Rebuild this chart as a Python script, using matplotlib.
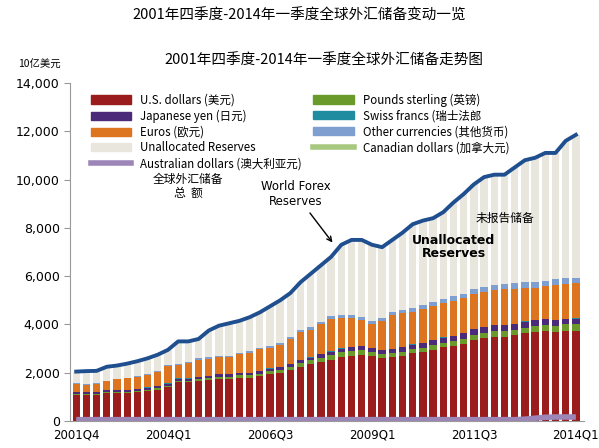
import matplotlib
matplotlib.use("Agg")
import matplotlib.pyplot as plt
import numpy as np

plt.rcParams['font.family'] = ['DejaVu Sans', 'Noto Sans CJK SC']
CJK = ['Noto Sans CJK SC', 'DejaVu Sans']

n = 50
tick_pos = [0, 9, 19, 29, 39, 49]
tick_labels = ['2001Q4', '2004Q1', '2006Q3', '2009Q1', '2011Q3', '2014Q1']

total = [2050,2070,2080,2250,2300,2380,2480,2600,2750,2950,3300,3300,3400,3750,3950,4050,4150,4300,4500,4750,
         5000,5300,5750,6100,6450,6800,7300,7500,7500,7300,7200,7500,7800,8150,8300,8400,8650,9050,9400,9800,
         10100,10200,10200,10500,10800,10900,11100,11100,11600,11850]
usd = [1100,1100,1100,1150,1150,1150,1200,1250,1300,1400,1600,1600,1650,1700,1750,1750,1800,1800,1850,1950,
       2000,2100,2250,2350,2450,2550,2650,2700,2750,2700,2600,2650,2700,2800,2850,2950,3050,3100,3200,3350,
       3450,3500,3500,3550,3650,3700,3750,3700,3750,3750]
jpy = [70,70,70,75,75,80,80,80,85,90,90,90,90,95,95,95,95,100,100,100,
       110,110,115,120,130,140,150,160,170,170,170,170,180,190,200,200,210,220,230,240,
       240,250,250,250,250,240,230,230,230,240]
gbp = [40,40,40,45,45,50,50,55,60,65,70,70,75,80,85,90,95,100,110,120,
       130,140,150,160,180,190,200,200,190,160,160,170,180,180,190,190,200,200,210,210,
       210,220,220,220,220,230,240,250,250,250]
chf = [10]*n
eur = [320,270,320,370,450,480,480,520,560,720,560,620,720,700,700,700,780,820,900,850,
       920,1050,1150,1150,1250,1350,1250,1200,1050,1000,1200,1400,1400,1350,1400,1400,1400,1450,1450,1450,
       1450,1450,1500,1450,1400,1350,1350,1450,1450,1450]
other = [30,30,30,30,30,30,30,40,40,40,40,40,50,50,50,50,50,60,60,60,
         70,70,80,90,100,110,120,120,120,110,110,120,130,140,150,160,170,180,180,190,
         200,200,210,220,230,230,230,230,240,240]
aud = [60]*44 + [80,120,160,170,170,170]

x = np.arange(n)
fig = plt.figure(figsize=(5.99, 4.48), dpi=100)
ax = fig.add_axes([0.117, 0.06, 0.858, 0.755])

w = 0.72
ax.bar(x, total, w, color='#e9e7dd', zorder=1)
bottom = np.zeros(n)
for vals, col in [(usd, '#9b1c1c'), (gbp, '#6a9a2a'), (jpy, '#4b2a7a'), (chf, '#1f8ca0'),
                  (eur, '#dd7420'), (other, '#7f9fd0')]:
    ax.bar(x, vals, w, bottom=bottom, color=col, zorder=2)
    bottom += np.array(vals)
ax.plot(x, aud, color='#9c86b8', lw=4, zorder=3, solid_capstyle='butt')
ax.plot(x, total, color='#1f4f8f', lw=2.8, zorder=4)

ax.set_ylim(0, 14000)
ax.set_xlim(-0.6, n - 0.2)
ax.set_yticks(range(0, 14001, 2000))
ax.set_yticklabels([f'{v:,}' for v in range(0, 14001, 2000)], fontsize=9)
ax.set_xticks(tick_pos)
ax.set_xticklabels(tick_labels, fontsize=8.5)
ax.tick_params(axis='x', length=0, pad=5)
ax.tick_params(axis='y', length=4, color='#999999')
for s in ['top', 'right']:
    ax.spines[s].set_visible(False)
ax.spines['left'].set_color('#999999')
ax.spines['bottom'].set_color('#999999')

from matplotlib.patches import Patch
from matplotlib.lines import Line2D
items = [
    (Patch(color='#9b1c1c'), 'U.S. dollars (美元)'),
    (Patch(color='#4b2a7a'), 'Japanese yen (日元)'),
    (Patch(color='#dd7420'), 'Euros (欧元)'),
    (Patch(color='#e9e7dd'), 'Unallocated Reserves'),
    (Line2D([], [], color='#9c86b8', lw=4), 'Australian dollars (澳大利亚元)'),
    (Patch(color='#6a9a2a'), 'Pounds sterling (英镑)'),
    (Patch(color='#1f8ca0'), 'Swiss francs (瑞士法郎'),
    (Patch(color='#7f9fd0'), 'Other currencies (其他货币)'),
    (Line2D([], [], color='#a8c880', lw=4), 'Canadian dollars (加拿大元)'),
]
ax.legend([h for h, _ in items], [l for _, l in items], ncol=2, loc='upper left',
          bbox_to_anchor=(0.02, 1.0), frameon=False, handlelength=3.5, handleheight=0.7,
          labelspacing=0.25, columnspacing=1.0, prop={'family': CJK, 'size': 8.3})

fig.text(0.5, 0.965, '2001年四季度-2014年一季度全球外汇储备变动一览', ha='center', va='center',
         fontsize=10.5, family=CJK)
fig.text(0.54, 0.865, '2001年四季度-2014年一季度全球外汇储备走势图', ha='center', va='center',
         fontsize=10.5, family=CJK)
fig.text(0.03, 0.855, '10亿美元', ha='left', va='center', fontsize=7.5, family=CJK)

ax.text(11, 9700, '全球外汇储备\n总  额', ha='center', va='center', fontsize=8.5, family=CJK, linespacing=1.1)
ax.annotate('World Forex\nReserves', xy=(25.3, 7300), xytext=(21.5, 9400), ha='center', va='center',
            fontsize=8.5, arrowprops=dict(arrowstyle='->', color='black', lw=1))
ax.text(42, 8400, '未报告储备', ha='center', va='center', fontsize=8.5, family=CJK)
ax.text(37, 7200, 'Unallocated\nReserves', ha='center', va='center', fontsize=9, fontweight='bold',
        linespacing=1.0)

fig.savefig('out.png', dpi=100)
